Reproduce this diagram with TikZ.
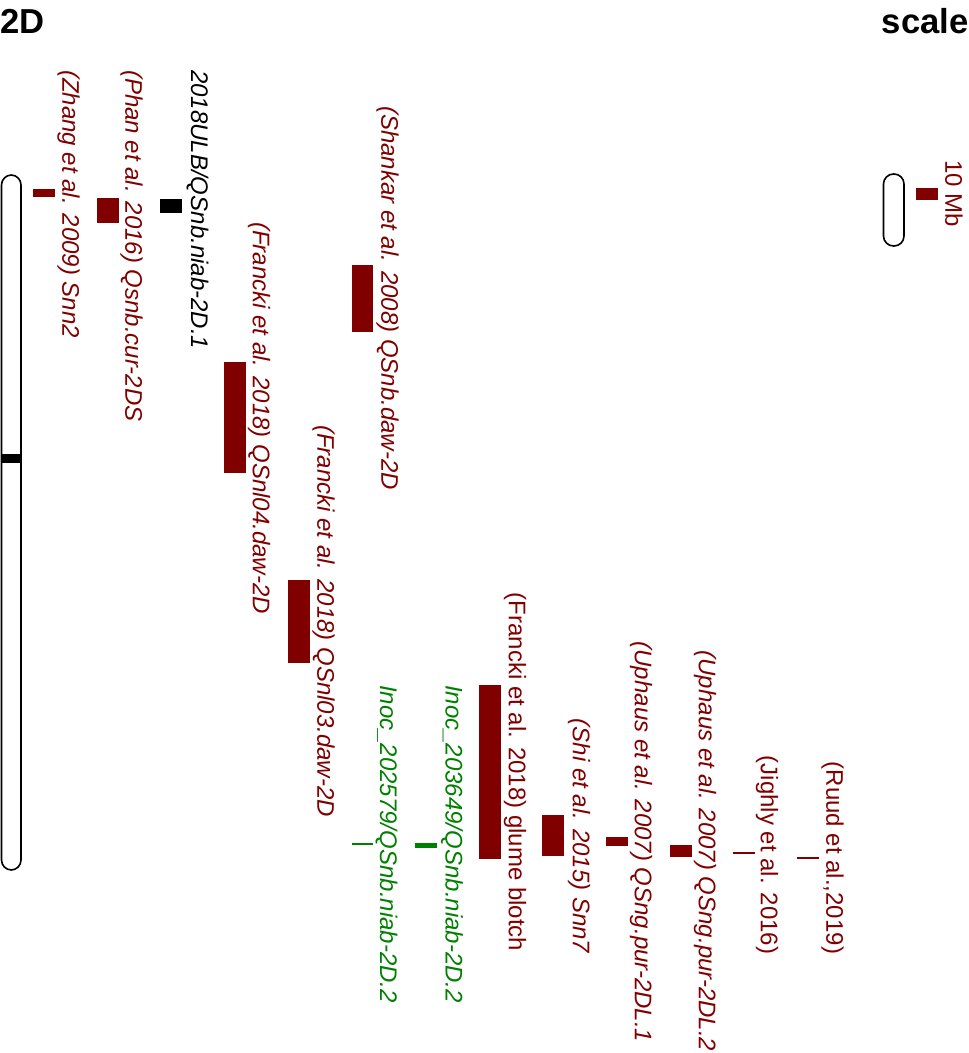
\documentclass[tikz,border=0pt]{standalone}
\usepackage{fontspec}
\setmainfont{Liberation Sans}
\definecolor{qtlred}{HTML}{800000}
\definecolor{qtlgreen}{HTML}{008000}
\tikzset{
	lbl/.style={rotate=-90,inner sep=0pt,font=\fontsize{18}{21}\selectfont\itshape},
	lblup/.style={rotate=-90,inner sep=0pt,font=\fontsize{18}{21}\selectfont},
	ttl/.style={inner sep=0pt,font=\fontsize{26}{30}\selectfont\bfseries},
	chrom/.style={draw=black,fill=white,line width=1.2pt,rounded corners=7.5pt},
	qtl/.style={fill=qtlred},
	tick/.style={line width=0.8pt},
}
\begin{document}
\begin{tikzpicture}[x=0.75pt,y=-0.75pt]
		\useasboundingbox (0,0) rectangle (969,1053);
		%
		\node[ttl,anchor=base west] (t2d) at (0,33) {2D};
		\node[ttl,anchor=base east] (tscale) at (969,33) {scale};
		%
		\draw[chrom] (1.5,175) rectangle (21,870);
		\fill[black] (1.5,454) rectangle (21,463);
		\draw[chrom] (883.5,174) rectangle (904,246);
		%
		\fill[qtl] (33,189) rectangle (55,197);
		\fill[qtl] (97,198) rectangle (119,223);
		\fill[black] (160,199) rectangle (182,213);
		\fill[qtl] (224,362) rectangle (246,473);
		\fill[qtl] (288,580) rectangle (310,663);
		\fill[qtl] (352,265) rectangle (373,332);
		\draw[qtlgreen,tick] (352,844) -- (373,844);
		\fill[qtlgreen] (415,843) rectangle (437,847.5);
		\fill[qtl] (479,685) rectangle (501,859);
		\fill[qtl] (542,815) rectangle (564,856);
		\fill[qtl] (606,837) rectangle (628,846);
		\fill[qtl] (670,845) rectangle (692,857);
		\draw[qtlred,tick] (733,853) -- (755,853);
		\draw[qtlred,tick] (797,858) -- (819,858);
		\fill[qtl] (916,188) rectangle (938,200);
		%
		\node[lbl,text=qtlred,anchor=west] (lzhang) at (68.5,70) {(Zhang et al. 2009) Snn2};
		\node[lbl,text=qtlred,anchor=west] (lphan) at (131.5,70) {(Phan et al. 2016) Qsnb.cur-2DS};
		\node[lbl,anchor=west] (lulb) at (197.5,70) {2018ULB/QSnb.niab-2D.1};
		\node[lbl,text=qtlred] (lsnl4) at (259,418) {(Francki et al. 2018) QSnl04.daw-2D};
		\node[lbl,text=qtlred] (lsnl3) at (323.5,621) {(Francki et al. 2018) QSnl03.daw-2D};
		\node[lbl,text=qtlred] (lshankar) at (387.5,298) {(Shankar et al. 2008) QSnb.daw-2D};
		\node[lbl,text=qtlgreen] (linoc1) at (386.5,844) {Inoc\_202579/QSnb.niab-2D.2};
		\node[lbl,text=qtlgreen] (linoc2) at (452,844) {Inoc\_203649/QSnb.niab-2D.2};
		\node[lblup,text=qtlred] (lglume) at (515,772) {(Francki et al. 2018) glume blotch};
		\node[lbl,text=qtlred] (lshi) at (579,836) {(Shi et al. 2015) Snn7};
		\node[lbl,text=qtlred] (lup1) at (641,842) {(Uphaus et al. 2007) QSng.pur-2DL.1};
		\node[lbl,text=qtlred] (lup2) at (705,851) {(Uphaus et al. 2007) QSng.pur-2DL.2};
		\node[lblup,text=qtlred] (ljighly) at (767,855) {(Jighly et al. 2016)};
		\node[lblup,text=qtlred] (lruud) at (832.5,858) {(Ruud et al.,2019)};
		\node[lblup,text=qtlred] (lscale) at (954,194) {10 Mb};
		%
\end{tikzpicture}
\end{document}
